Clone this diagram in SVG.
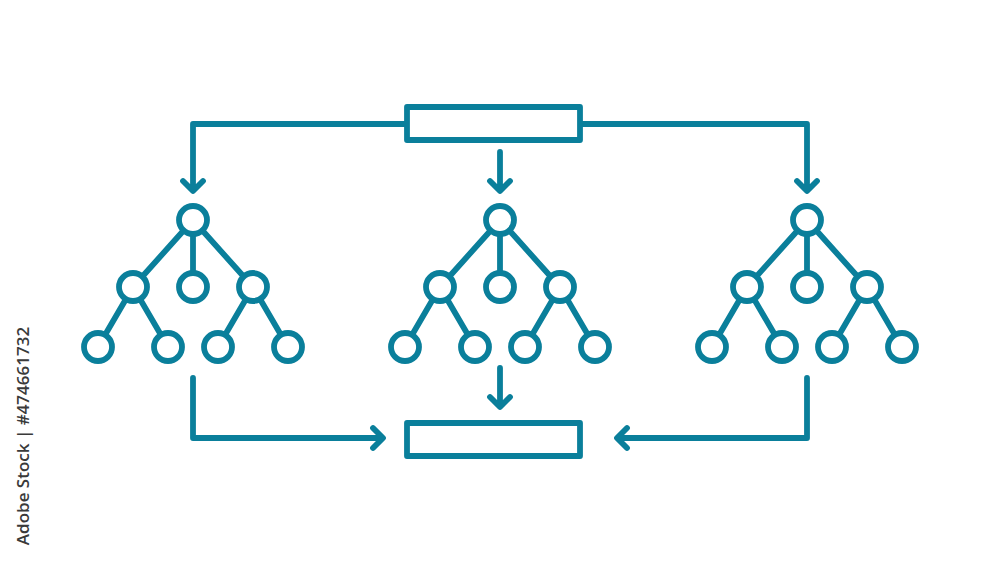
<svg xmlns="http://www.w3.org/2000/svg" width="1000" height="563" viewBox="0 0 1000 563">
<defs>
<style>
.s{fill:none;stroke:#0a7f9b;stroke-width:5.8;stroke-linecap:round;stroke-linejoin:round}
.box{fill:#fff;stroke:#0a7f9b;stroke-width:5.8;stroke-linejoin:round}
.n{fill:#fff;stroke:#0a7f9b;stroke-width:5.8}
.wm{font-family:"Open Sans","Liberation Sans",sans-serif;font-size:17px;font-weight:600;fill:#3a3a3a}
</style>
<g id="treeShape">
<path class="s" d="M0,0 L-60,67 M0,0 V67 M0,0 L60,67 M-60,67 L-95,127 M-60,67 L-25,127 M60,67 L25,127 M60,67 L95,127"/>
<circle class="n" cx="0" cy="0" r="14"/>
<circle class="n" cx="-60" cy="67" r="14"/>
<circle class="n" cx="0" cy="67" r="14"/>
<circle class="n" cx="60" cy="67" r="14"/>
<circle class="n" cx="-95" cy="127" r="14"/>
<circle class="n" cx="-25" cy="127" r="14"/>
<circle class="n" cx="25" cy="127" r="14"/>
<circle class="n" cx="95" cy="127" r="14"/>
</g>
</defs>
<rect width="1000" height="563" fill="#fff"/>
<g id="connectors">
<path class="s" d="M407,124 H193 V190 M183,181 L193,191 L203,181"/>
<path class="s" d="M500,152 V190 M490,181 L500,191 L510,181"/>
<path class="s" d="M580,124 H807 V190 M797,181 L807,191 L817,181"/>
<path class="s" d="M193,378 V438 H382 M373,428 L383,438 L373,448"/>
<path class="s" d="M500,368 V406 M490,397 L500,407 L510,397"/>
<path class="s" d="M807,378 V438 H618 M627,428 L617,438 L627,448"/>
</g>
<g id="input"><rect class="box" x="407" y="107" width="173" height="33"/></g>
<g id="output"><rect class="box" x="407" y="423" width="173" height="33"/></g>
<g id="tree1"><use href="#treeShape" x="193" y="220"/></g>
<g id="tree2"><use href="#treeShape" x="500" y="220"/></g>
<g id="tree3"><use href="#treeShape" x="807" y="220"/></g>
<text class="wm" transform="translate(29,436) rotate(-90)" text-anchor="middle">Adobe Stock | #474661732</text>
</svg>
